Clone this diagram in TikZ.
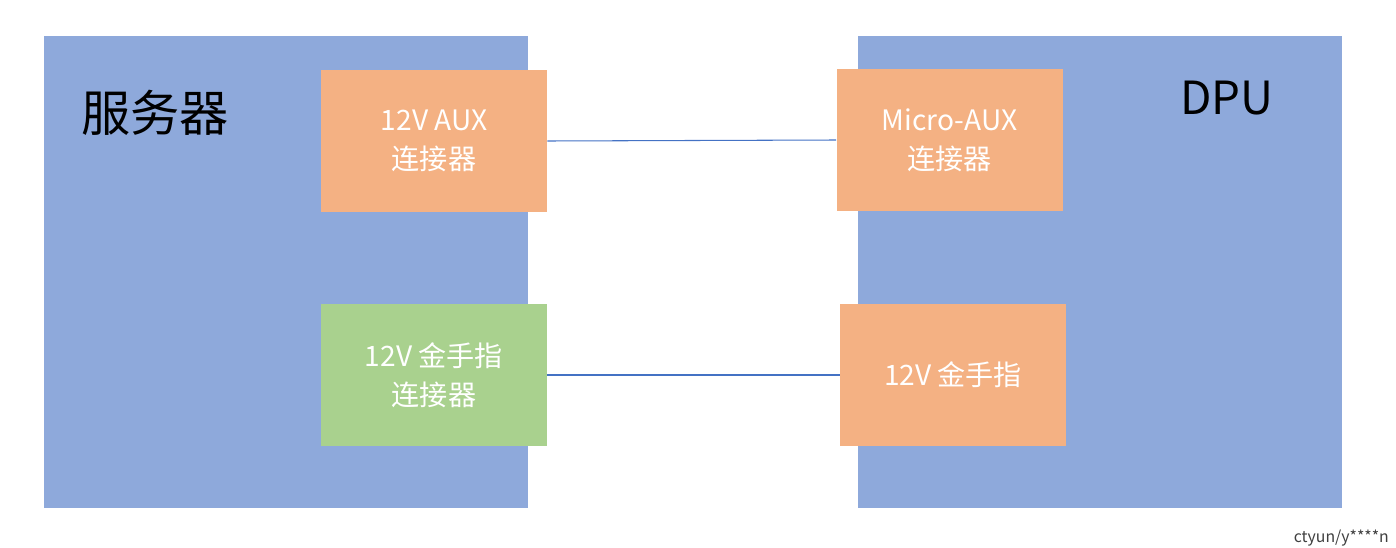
\documentclass[tikz,border=0pt]{standalone}
\usepackage{fontspec}
\setmainfont{Noto Sans CJK SC}
\definecolor{boardblue}{HTML}{8EA9DB}
\definecolor{connorange}{HTML}{F4B183}
\definecolor{conngreen}{HTML}{A9D18E}
\definecolor{wireblue}{HTML}{4472C4}
\tikzset{
  board/.style={fill=boardblue,draw=none,anchor=north west,inner sep=0pt,
                minimum width=9.68cm,minimum height=9.44cm},
  conn/.style={draw=none,inner sep=0pt,text=white,align=center,
               minimum width=4.52cm,minimum height=2.84cm,
               font=\fontsize{16}{22}\selectfont},
  wire/.style={wireblue,line width=0.6pt}
}

\begin{document}
\begin{tikzpicture}
  \useasboundingbox (0,0) rectangle (27.92,-10.94);
  \node[board] (server) at (0.88,-0.72) {};
  \node[board] (dpu) at (17.16,-0.72) {};
  \node[font=\fontsize{28}{30}\selectfont] (servername) at (3.1,-2.26) {服务器};
  \node[font=\fontsize{26}{28}\selectfont] (dpuname) at (24.54,-1.96) {DPU};
  \node[conn,fill=connorange] (aux) at (8.68,-2.82) {12V AUX\\连接器};
  \node[conn,fill=conngreen] (gold) at (8.68,-7.5) {12V 金手指\\连接器};
  \node[conn,fill=connorange] (maux) at (18.99,-2.8) {Micro-AUX\\连接器};
  \node[conn,fill=connorange] (dgold) at (19.06,-7.5) {12V 金手指};
  \draw[wire] (aux.east) -- (maux.west);
  \draw[wire] (gold.east) -- (dgold.west);
  \node[text=black!75,font=\fontsize{9}{10}\selectfont,anchor=east] (mark) at (27.9,-10.76) {ctyun/y****n};
\end{tikzpicture}
\end{document}
